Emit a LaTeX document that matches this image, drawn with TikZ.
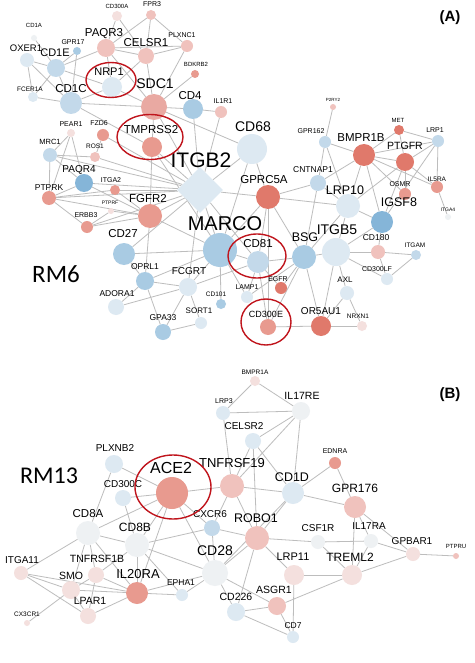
\documentclass[tikz,border=0pt]{standalone}
\usepackage{fontspec}
\setmainfont{Liberation Sans}
\newfontfamily\rmfam{Carlito}
\usetikzlibrary{shapes.geometric}
\pgfdeclarelayer{bg}
\pgfdeclarelayer{back}
\pgfsetlayers{back,bg,main}
\definecolor{cA}{HTML}{E0796B}
\definecolor{cB}{HTML}{E89A8F}
\definecolor{cC}{HTML}{F0C2BD}
\definecolor{cD}{HTML}{F4E0DE}
\definecolor{cE}{HTML}{EEF1F3}
\definecolor{cF}{HTML}{DDE9F2}
\definecolor{cG}{HTML}{C3D9EA}
\definecolor{cH}{HTML}{A9CBE3}
\definecolor{cI}{HTML}{85B5D8}
\definecolor{cS}{HTML}{E9A9A2}
\definecolor{edgec}{HTML}{BDBDBD}
\definecolor{ringc}{HTML}{C0141C}
\tikzset{
  gnode/.style={circle,inner sep=0pt,draw=none},
  glab/.style={inner sep=0pt,text=black},
  edge/.style={draw=edgec,line width=0.8pt},
  ring/.style={ellipse,draw=ringc,line width=1.4pt,inner sep=0pt},
}
\newcommand\gn[9]{%
  \node[gnode,minimum size=#4pt,fill=#5] (#1) at (#2,#3) {};
  \node[glab,font=\fontsize{#7}{#7}\selectfont] (#1-l) at (#8,#9) {#6};}
\newcommand\ed[2]{\foreach \t in {#2}{\draw[edge] (#1) -- (\t);}}
\begin{document}
\begin{tikzpicture}[x=1pt,y=-1pt]
\begin{pgfonlayer}{back}
\useasboundingbox[fill=white] (0,0) rectangle (474,663);
\end{pgfonlayer}
% ---------- Panel A ----------
\gn{CDoneA}{34}{38}{6}{cE}{CD1A}{6}{34}{25}
\gn{CDthreeA}{117}{16}{10}{cD}{CD300A}{6}{117}{6}
\gn{FPRthree}{151}{15}{10}{cC}{FPR3}{7}{152}{4}
\gn{PAQRthree}{106}{48}{18}{cC}{PAQR3}{11.5}{104}{34}
\gn{CELSRone}{146}{56}{16}{cC}{CELSR1}{11.5}{146}{43}
\gn{PLXNCone}{187}{46}{12}{cC}{PLXNC1}{7}{182}{35}
\gn{GPRseventeen}{77}{51}{8}{cH}{GPR17}{7}{73}{42}
\gn{OXERone}{27}{60}{14}{cF}{OXER1}{9.5}{26}{48}
\gn{CDoneE}{56}{68}{18}{cG}{CD1E}{11}{55}{53}
\gn{NRPone}{112}{87}{20}{cF}{NRP1}{11}{109}{72}
\gn{SDCone}{154}{107}{26}{cS}{SDC1}{14}{155}{84}
\gn{BDKRBtwo}{195}{74}{8}{cB}{BDKRB2}{6}{196}{64}
\gn{FCERoneA}{33}{97}{10}{cF}{FCER1A}{6.5}{30}{89}
\gn{CDoneC}{71}{103}{22}{cG}{CD1C}{11.5}{71}{89}
\gn{CDfour}{193}{109}{20}{cH}{CD4}{11.5}{190}{96}
\gn{ILoneRone}{221}{112}{12}{cC}{IL1R1}{7}{223}{101}
\gn{PEARone}{71}{133}{8}{cD}{PEAR1}{7}{71}{124}
\gn{FZDsix}{103}{135}{12}{cB}{FZD6}{7}{99}{123}
\gn{TMPRSStwo}{152}{147}{20}{cB}{TMPRSS2}{11.5}{151}{130}
\node[diamond,inner sep=0pt,minimum size=46pt,fill=cF] (ITGBtwo) at (200,190) {};
\node[glab,font=\fontsize{21}{21}\selectfont] (ITGBtwo-l) at (201,160) {ITGB2};
\gn{MRCone}{50}{155}{14}{cG}{MRC1}{7.5}{50}{142}
\gn{ROSone}{95}{157}{10}{cC}{ROS1}{6.5}{95}{146}
\gn{PAQRfour}{84}{183}{18}{cI}{PAQR4}{10}{79}{170}
\gn{ITGAtwo}{115}{190}{10}{cB}{ITGA2}{7}{111}{180}
\gn{PTPRK}{49}{198}{14}{cB}{PTPRK}{8.5}{49}{188}
\gn{PTPRF}{111}{211}{6}{cD}{PTPRF}{5}{110}{203}
\gn{FGFRtwo}{150}{216}{24}{cB}{FGFR2}{11.5}{148}{199}
\gn{ERBBthree}{87}{227}{12}{cB}{ERBB3}{7}{86}{215}
\gn{PtwoRYtwo}{333}{107}{6}{cC}{P2RY2}{4.5}{333}{100}
\gn{CDsixtyeight}{252}{149}{30}{cF}{CD68}{14}{253}{127}
\gn{MET}{399}{130}{10}{cA}{MET}{6}{398}{120}
\gn{LRPone}{438}{141}{12}{cG}{LRP1}{7}{435}{130}
\gn{GPRonesixtytwo}{325}{142}{12}{cG}{GPR162}{7}{311}{131}
\gn{BMPRoneB}{364}{155}{22}{cA}{BMPR1B}{11.5}{361}{138}
\gn{PTGFR}{405}{162}{18}{cA}{PTGFR}{10.5}{405}{146}
\gn{CNTNAPone}{318}{183}{16}{cG}{CNTNAP1}{8.5}{313}{170}
\gn{GPRCfiveA}{268}{197}{24}{cA}{GPRC5A}{11.5}{264}{180}
\gn{OSMR}{405}{194}{12}{cB}{OSMR}{7}{400}{184}
\gn{ILfiveRA}{437}{187}{12}{cB}{IL5RA}{6.5}{437}{179}
\gn{LRPten}{348}{206}{24}{cF}{LRP10}{12.5}{345}{190}
\gn{IGSFeight}{382}{222}{22}{cI}{IGSF8}{12.5}{399}{202}
\gn{ITGAfour}{448}{217}{6}{cE}{ITGA4}{5}{448}{210}
\gn{MARCO}{220}{250}{34}{cH}{MARCO}{20}{225}{224}
\gn{BSG}{304}{257}{24}{cH}{BSG}{12.5}{305}{237}
\gn{ITGBfive}{336}{252}{28}{cF}{ITGB5}{14}{337}{230}
\gn{CDoneeighty}{378}{252}{14}{cC}{CD180}{8.5}{376}{238}
\gn{ITGAM}{416}{255}{10}{cG}{ITGAM}{6.5}{415}{245}
\gn{CDeightyone}{258}{262}{22}{cG}{CD81}{11.5}{258}{244}
\gn{CDthreeLF}{387}{279}{12}{cF}{CD300LF}{7}{377}{269}
\gn{EGFR}{281}{288}{12}{cA}{EGFR}{7}{278}{279}
\gn{LAMPone}{247}{297}{12}{cF}{LAMP1}{7}{247}{287}
\gn{AXL}{347}{293}{14}{cF}{AXL}{8}{345}{280}
\gn{CDoneoone}{221}{304}{10}{cH}{CD101}{6.5}{216}{294}
\gn{SORTone}{201}{323}{12}{cF}{SORT1}{8}{199}{311}
\gn{CDthreeE}{268}{327}{16}{cB}{CD300E}{9}{266}{314}
\gn{ORfiveAUone}{321}{326}{20}{cA}{OR5AU1}{10}{321}{311}
\gn{NRXNone}{362}{326}{10}{cD}{NRXN1}{6.5}{358}{316}
\gn{CDtwentyseven}{124}{254}{22}{cH}{CD27}{11.5}{123}{234}
\gn{OPRLone}{145}{281}{18}{cH}{OPRL1}{8.5}{145}{267}
\gn{FCGRT}{188}{287}{18}{cF}{FCGRT}{10}{189}{271}
\gn{ADORAone}{116}{307}{16}{cF}{ADORA1}{8.5}{117}{294}
\gn{GPAthirtythree}{163}{332}{16}{cH}{GPA33}{8.5}{163}{318}
\node[glab,font=\rmfam\fontsize{25}{25}\selectfont] (RMsix) at (56,274) {RM6};
\node[glab,font=\bfseries\fontsize{15}{15}\selectfont] (panA) at (450,18) {(A)};
\node[ring,minimum width=50pt,minimum height=35pt] (ringNRP) at (111,80) {};
\node[ring,minimum width=66pt,minimum height=45pt] (ringTMP) at (150,137) {};
\node[ring,minimum width=58pt,minimum height=44pt] (ringCDe) at (257,256) {};
\node[ring,minimum width=50pt,minimum height=46pt] (ringCDt) at (266,322) {};
% ---------- Panel B ----------
\gn{BMPRoneA}{255}{381}{10}{cD}{BMPR1A}{6.5}{255}{372}
\gn{ILseventeenRE}{301}{411}{18}{cE}{IL17RE}{10.5}{302}{396}
\gn{LRPthree}{223}{413}{14}{cF}{LRP3}{7}{224}{401}
\gn{CELSRtwo}{253}{441}{16}{cF}{CELSR2}{10}{244}{426}
\gn{EDNRA}{335}{463}{12}{cB}{EDNRA}{7}{335}{451}
\gn{TNFRSFnineteen}{232}{486}{24}{cC}{TNFRSF19}{13}{232}{463}
\gn{CDoneD}{293}{493}{22}{cF}{CD1D}{12.5}{292}{477}
\gn{GPRonesevensix}{355}{507}{22}{cC}{GPR176}{12}{355}{488}
\gn{PLXNBtwo}{114}{464}{18}{cF}{PLXNB2}{10}{115}{448}
\gn{ACEtwo}{172}{493}{32}{cB}{ACE2}{16}{171}{468}
\gn{CDthreeC}{123}{498}{16}{cF}{CD300C}{10}{123}{484}
\gn{CXCRsix}{212}{528}{16}{cG}{CXCR6}{10}{210}{514}
\gn{CDeightA}{88}{533}{24}{cE}{CD8A}{11.5}{88}{514}
\gn{CDeightB}{137}{545}{24}{cE}{CD8B}{12}{135}{527}
\gn{ROBOone}{257}{538}{24}{cC}{ROBO1}{12.5}{256}{518}
\gn{CDtwentyeight}{215}{573}{26}{cE}{CD28}{14}{215}{551}
\gn{CSFoneR}{318}{542}{14}{cE}{CSF1R}{10}{318}{528}
\gn{ILseventeenRA}{371}{541}{14}{cE}{IL17RA}{10}{369}{526}
\gn{GPBARone}{413}{554}{14}{cD}{GPBAR1}{10}{412}{541}
\gn{PTPRU}{456}{556}{6}{cC}{PTPRU}{6}{456}{546}
\gn{LRPeleven}{294}{575}{20}{cD}{LRP11}{11}{293}{557}
\gn{TREMLtwo}{352}{575}{20}{cD}{TREML2}{12}{350}{557}
\gn{ITGAeleven}{21}{573}{14}{cD}{ITGA11}{10}{22}{560}
\gn{TNFRSFoneB}{96}{575}{16}{cD}{TNFRSF1B}{10.5}{97}{559}
\gn{ILtwentyRA}{137}{593}{22}{cB}{IL20RA}{13}{138}{574}
\gn{SMO}{71}{590}{18}{cD}{SMO}{10.5}{71}{576}
\gn{EPHAone}{182}{595}{12}{cF}{EPHA1}{8.5}{181}{583}
\gn{CDtwotwosix}{236}{612}{18}{cF}{CD226}{10.5}{236}{597}
\gn{ASGRone}{277}{606}{18}{cC}{ASGR1}{10.5}{274}{590}
\gn{LPARone}{88}{616}{16}{cD}{LPAR1}{10.5}{90}{601}
\gn{CXthreeCRone}{27}{623}{6}{cD}{CX3CR1}{6.5}{27}{614}
\gn{CDseven}{293}{637}{12}{cF}{CD7}{8.5}{293}{626}
\node[glab,font=\rmfam\fontsize{24}{24}\selectfont] (RMthirteen) at (49,476) {RM13};
\node[glab,font=\bfseries\fontsize{15}{15}\selectfont] (panB) at (450,395) {(B)};
\node[ring,minimum width=76pt,minimum height=64pt] (ringACE) at (173,487) {};
% ---------- edges ----------
\begin{pgfonlayer}{bg}
\ed{CDoneA}{CDoneE}
\ed{CDthreeA}{PAQRthree,CELSRone}
\ed{FPRthree}{PAQRthree,CELSRone,PLXNCone}
\ed{PAQRthree}{CELSRone,PLXNCone,NRPone,SDCone,CDoneE}
\ed{CELSRone}{PLXNCone,SDCone,NRPone}
\ed{PLXNCone}{SDCone}
\ed{GPRseventeen}{CDoneE,CDoneC}
\ed{OXERone}{CDoneE,FCERoneA,CDoneC}
\ed{CDoneE}{CDoneC,FCERoneA,NRPone}
\ed{FCERoneA}{CDoneC}
\ed{CDoneC}{NRPone,SDCone,TMPRSStwo}
\ed{NRPone}{SDCone}
\ed{BDKRBtwo}{SDCone}
\ed{SDCone}{CDfour,ITGBtwo,TMPRSStwo,CDsixtyeight}
\ed{CDfour}{ITGBtwo,ILoneRone}
\ed{ILoneRone}{ITGBtwo}
\ed{PEARone}{MRCone,PTPRK,PAQRfour}
\ed{FZDsix}{ITGBtwo,ROSone}
\ed{MRCone}{PAQRfour,ITGBtwo,PTPRK,ROSone}
\ed{ROSone}{ITGBtwo}
\ed{PAQRfour}{ITGBtwo,PTPRK,FGFRtwo}
\ed{PTPRK}{ITGBtwo,FGFRtwo,ITGAtwo,ERBBthree}
\ed{ITGAtwo}{ITGBtwo,FGFRtwo}
\ed{PTPRF}{FGFRtwo,ERBBthree}
\ed{ERBBthree}{FGFRtwo,ITGBtwo}
\ed{FGFRtwo}{ITGBtwo,MARCO,OPRLone}
\ed{TMPRSStwo}{ITGBtwo,FGFRtwo,MARCO}
\ed{ITGBtwo}{CDsixtyeight,MARCO,GPRCfiveA,CDtwentyseven,CDeightyone,FCGRT}
\ed{CDsixtyeight}{GPRCfiveA,MARCO}
\ed{PtwoRYtwo}{GPRonesixtytwo}
\ed{GPRonesixtytwo}{BMPRoneB,CNTNAPone,LRPten}
\ed{MET}{BMPRoneB,LRPone,PTGFR}
\ed{LRPone}{PTGFR,ILfiveRA,BMPRoneB,IGSFeight}
\ed{BMPRoneB}{PTGFR,OSMR,ILfiveRA,LRPten,CNTNAPone,IGSFeight}
\ed{PTGFR}{OSMR,ILfiveRA,IGSFeight,LRPten}
\ed{ILfiveRA}{ITGAfour}
\ed{CNTNAPone}{GPRCfiveA,LRPten,BSG}
\ed{GPRCfiveA}{LRPten,MARCO,CDeightyone,BSG,CDthreeE}
\ed{LRPten}{IGSFeight,ITGBfive,BSG}
\ed{IGSFeight}{ITGBfive,CDoneeighty}
\ed{ITGBfive}{CDoneeighty,BSG,AXL,CDthreeLF,ORfiveAUone}
\ed{CDoneeighty}{ITGAM,CDthreeLF}
\ed{ITGAM}{CDthreeLF}
\ed{BSG}{CDeightyone,EGFR,CDthreeE,ORfiveAUone,LAMPone}
\ed{AXL}{NRXNone,ORfiveAUone}
\ed{MARCO}{CDeightyone,CDtwentyseven,FCGRT,OPRLone,CDoneoone,LAMPone}
\ed{CDeightyone}{CDthreeE,LAMPone,EGFR}
\ed{CDthreeE}{ORfiveAUone}
\ed{ORfiveAUone}{NRXNone}
\ed{CDtwentyseven}{OPRLone}
\ed{OPRLone}{FCGRT,ADORAone,GPAthirtythree}
\ed{FCGRT}{ADORAone,GPAthirtythree,SORTone,CDeightyone}
\ed{GPAthirtythree}{SORTone}
% panel B
\ed{BMPRoneA}{LRPthree,ILseventeenRE}
\ed{LRPthree}{ILseventeenRE,TNFRSFnineteen}
\ed{ILseventeenRE}{CELSRtwo,CDoneD,TNFRSFnineteen}
\ed{CELSRtwo}{TNFRSFnineteen,ROBOone,CDoneD}
\ed{EDNRA}{CDoneD,GPRonesevensix}
\ed{TNFRSFnineteen}{CDoneD,ACEtwo,ROBOone,CXCRsix}
\ed{CDoneD}{GPRonesevensix,ROBOone,CDtwentyeight}
\ed{GPRonesevensix}{ILseventeenRA,TREMLtwo,GPBARone}
\ed{PLXNBtwo}{ACEtwo,CDeightA}
\ed{CDthreeC}{ACEtwo,CDeightB}
\ed{ACEtwo}{CDeightA,CDeightB,CXCRsix,CDtwentyeight,ILtwentyRA}
\ed{CDeightA}{CDeightB,ITGAeleven,TNFRSFoneB,SMO,ILtwentyRA}
\ed{CDeightB}{CDtwentyeight,CXCRsix,ILtwentyRA,TNFRSFoneB,EPHAone}
\ed{CXCRsix}{CDtwentyeight,ROBOone}
\ed{ROBOone}{CDtwentyeight,CSFoneR,LRPeleven,CDtwotwosix}
\ed{CDtwentyeight}{EPHAone,ILtwentyRA,CDtwotwosix,ASGRone}
\ed{CSFoneR}{ILseventeenRA,TREMLtwo}
\ed{ILseventeenRA}{GPBARone,TREMLtwo}
\ed{GPBARone}{PTPRU,TREMLtwo}
\ed{LRPeleven}{TREMLtwo,CDseven}
\ed{TREMLtwo}{ASGRone}
\ed{ASGRone}{CDtwotwosix,CDseven}
\ed{CDtwotwosix}{CDseven}
\ed{ITGAeleven}{SMO,LPARone,ILtwentyRA}
\ed{TNFRSFoneB}{ILtwentyRA,LPARone,SMO}
\ed{SMO}{ILtwentyRA,CXthreeCRone,LPARone}
\ed{LPARone}{ILtwentyRA}
\ed{ILtwentyRA}{EPHAone}
\end{pgfonlayer}
\end{tikzpicture}
\end{document}
